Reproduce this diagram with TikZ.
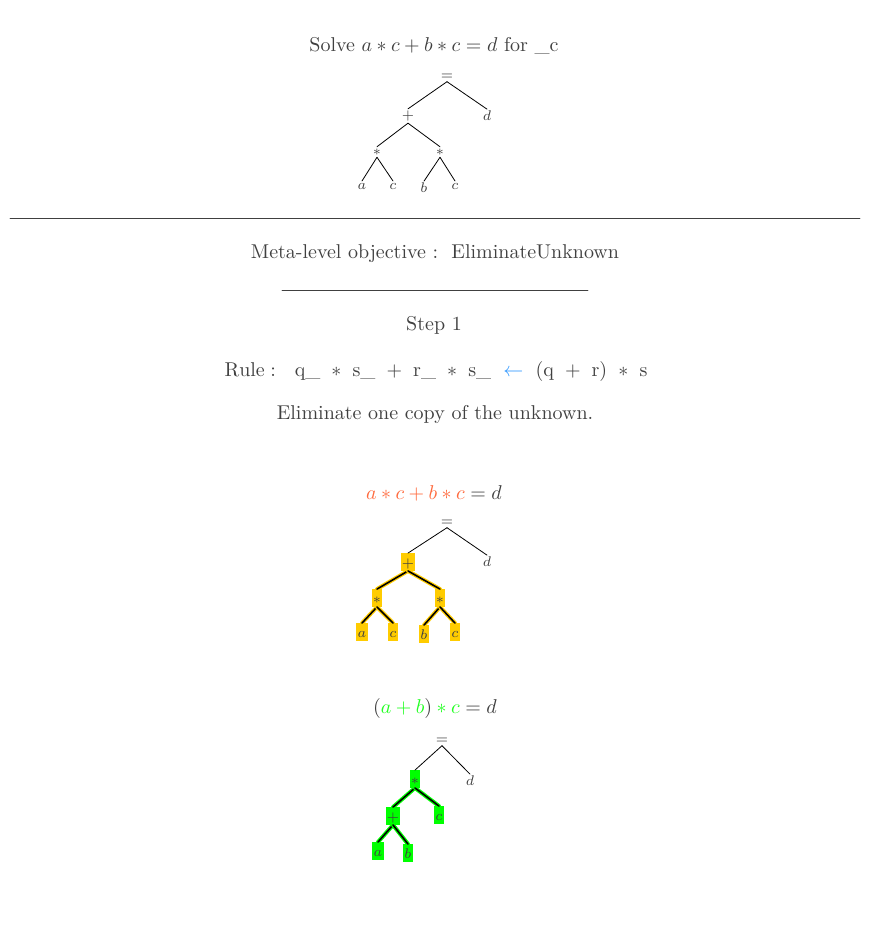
\documentclass[tikz,border=0pt]{standalone}
\usepackage{xcolor}
\definecolor{textgray}{HTML}{404040}
\definecolor{eqorange}{HTML}{FF6A3D}
\definecolor{eqgreen}{HTML}{22FF22}
\definecolor{hlgreen}{HTML}{00FF00}
\definecolor{hlyellow}{HTML}{FFCC00}
\definecolor{arrowblue}{HTML}{3399FF}
\begin{document}
\begin{tikzpicture}[x=0.5pt, y=-0.5pt, line cap=round, line join=round,
    tnode/.style={font=\scriptsize, text=textgray, inner sep=0.8pt},
    hl/.style={tnode, fill=#1, inner sep=0.6pt, text height=1.5ex, text depth=0.2ex},
    hledge/.style={draw=#1, line width=2pt, postaction={draw=black, line width=0.8pt}}]
  \useasboundingbox (0, 0) rectangle (871, 950);
  % Title
  \node [text=textgray] (title) at (434, 46) {Solve $a*c+b*c=d$ for \_c};
  % First tree
  \node [tnode] (one-1-1) at (447, 77) {$=$};
  \node [tnode] (one-2-1) at (408, 116) {$+$};
  \node [tnode] (one-2-2) at (487, 116) {$d$};
  \foreach \a [count=\x] in {377, 440}
    \node [tnode] (one-3-\x) at (\a, 152) {$*$};
  \node [tnode] (one-4-1) at (362, 186) {$a$};
  \node [tnode] (one-4-2) at (393, 186) {$c$};
  \node [tnode] (one-4-3) at (424, 188) {$b$};
  \node [tnode] (one-4-4) at (455, 186) {$c$};
  \foreach \a in {1, 2}
    \draw (one-1-1.south) -- (one-2-\a.north);
  \foreach \a in {1, 2}
    \draw (one-2-1.south) -- (one-3-\a.north);
  \foreach \a in {1, 2}
    \draw (one-3-1.south) -- (one-4-\a.north);
  \foreach \a in {3, 4}
    \draw (one-3-2.south) -- (one-4-\a.north);
  % Separators and headings
  \coordinate (sep-1-l) at (10, 218);
  \coordinate (sep-1-r) at (860, 218);
  \draw [textgray] (sep-1-l) -- (sep-1-r);
  \node [text=textgray] (objective) at (435, 254) {Meta-level objective\ :\ \ EliminateUnknown};
  \coordinate (sep-2-l) at (282, 290);
  \coordinate (sep-2-r) at (588, 290);
  \draw [textgray] (sep-2-l) -- (sep-2-r);
  \node [text=textgray] (step) at (434, 325) {Step 1};
  \node [text=textgray] (rule) at (436, 371)
    {$\mathrm{Rule}:\ \ \mathrm{q\_}\ *\ \mathrm{s\_}\ +\ \mathrm{r\_}\ *\ \mathrm{s\_}\ \mathrel{\textcolor{arrowblue}{\leftarrow}}\ (\mathrm{q}\ +\ \mathrm{r})\ *\ \mathrm{s}$};
  \node [text=textgray] (explain) at (435, 414) {Eliminate one copy of the unknown.};
  % Second tree
  \node [text=textgray] (eq-2) at (434, 493) {$\textcolor{eqorange}{a*c+b*c}=d$};
  \node [tnode] (two-1-1) at (447, 523) {$=$};
  \node [hl=hlyellow] (two-2-1) at (408, 562) {$+$};
  \node [tnode] (two-2-2) at (487, 562) {$d$};
  \foreach \a [count=\x] in {377, 440}
    \node [hl=hlyellow] (two-3-\x) at (\a, 598) {$*$};
  \node [hl=hlyellow] (two-4-1) at (362, 632) {$a$};
  \node [hl=hlyellow] (two-4-2) at (393, 632) {$c$};
  \node [hl=hlyellow] (two-4-3) at (424, 634) {$b$};
  \node [hl=hlyellow] (two-4-4) at (455, 632) {$c$};
  \foreach \a in {1, 2}
    \draw (two-1-1.south) -- (two-2-\a.north);
  \foreach \a in {1, 2}
    \draw [hledge=hlyellow] (two-2-1.south) -- (two-3-\a.north);
  \foreach \a in {1, 2}
    \draw [hledge=hlyellow] (two-3-1.south) -- (two-4-\a.north);
  \foreach \a in {3, 4}
    \draw [hledge=hlyellow] (two-3-2.south) -- (two-4-\a.north);
  % Third tree
  \node [text=textgray] (eq-3) at (435, 708) {$(\textcolor{eqgreen}{a+b})\textcolor{eqgreen}{{}*c}=d$};
  \node [tnode] (three-1-1) at (442, 741) {$=$};
  \node [hl=hlgreen] (three-2-1) at (415, 779) {$*$};
  \node [tnode] (three-2-2) at (470, 781) {$d$};
  \node [hl=hlgreen] (three-3-1) at (393, 816) {$+$};
  \node [hl=hlgreen] (three-3-2) at (439, 815) {$c$};
  \node [hl=hlgreen] (three-4-1) at (378, 851) {$a$};
  \node [hl=hlgreen] (three-4-2) at (408, 853) {$b$};
  \foreach \a in {1, 2}
    \draw (three-1-1.south) -- (three-2-\a.north);
  \foreach \a in {1, 2}
    \draw [hledge=hlgreen] (three-2-1.south) -- (three-3-\a.north);
  \foreach \a in {1, 2}
    \draw [hledge=hlgreen] (three-3-1.south) -- (three-4-\a.north);
\end{tikzpicture}
\end{document}
